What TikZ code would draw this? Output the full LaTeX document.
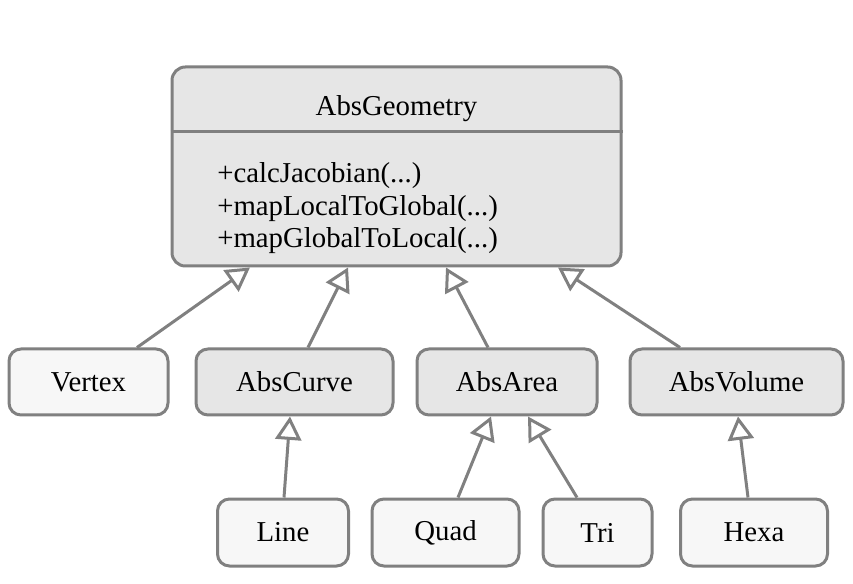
\documentclass[tikz,border=0pt]{standalone}
\usepackage{fontspec}
\setmainfont{Liberation Serif}
\usetikzlibrary{arrows.meta,calc}
\definecolor{strokegray}{HTML}{808080}
\definecolor{darkfill}{HTML}{E6E6E6}
\definecolor{lightfill}{HTML}{F7F7F7}
\begin{document}
\begin{tikzpicture}[x=0.75pt,y=-0.75pt,
  every node/.style={font=\fontsize{21.6}{26}\selectfont, inner sep=0pt},
  umlbox/.style={draw=strokegray, line width=2.25pt, rounded corners=9pt, minimum height=49.5pt},
  absbox/.style={umlbox, fill=darkfill},
  concbox/.style={umlbox, fill=lightfill},
  inherit/.style={draw=strokegray, line width=2.25pt, -{Triangle[open, fill=white, length=17.5pt, width=19.5pt]}}
]
\useasboundingbox (0,0) rectangle (853,584);

% main class
\node[draw=strokegray, line width=2.25pt, rounded corners=10pt, fill=darkfill,
      minimum width=336.75pt, minimum height=149.25pt] (geom) at (396.5,166.5) {};
\coordinate (divl) at (172,132);
\coordinate (divr) at (621,132);
\draw[strokegray, line width=2.25pt] (divl -| geom.west) -- (divr -| geom.east);
\node (title) at (396.5,109) {AbsGeometry};
\node[anchor=base west] (m1) at (217,183) {+calcJacobian(...)};
\node[anchor=base west] (m2) at (217,215.5) {+mapLocalToGlobal(...)};
\node[anchor=base west] (m3) at (217,248) {+mapGlobalToLocal(...)};

% second row
\node[concbox, minimum width=119.25pt] (vertex) at (88.5,382) {Vertex};
\node[absbox, minimum width=147.75pt] (abscurve) at (294.5,382) {AbsCurve};
\node[absbox, minimum width=135pt] (absarea) at (507,382) {AbsArea};
\node[absbox, minimum width=159.75pt] (absvolume) at (736.5,382) {AbsVolume};

% third row
\node[concbox, minimum width=98.25pt, minimum height=50.25pt] (line) at (283,532.5) {Line};
\node[concbox, minimum width=110.25pt, minimum height=50.25pt] (quad) at (445.5,532.5) {Quad};
\node[concbox, minimum width=81.75pt, minimum height=50.25pt] (tri) at (597.5,532.5) {Tri};
\node[concbox, minimum width=110.25pt, minimum height=50.25pt] (hexa) at (754,532.5) {Hexa};

% inheritance connectors
\draw[inherit] ($(vertex.north)+(48.5,0)$) -- ($(geom.south)+(-146.5,0)$);
\draw[inherit] ($(abscurve.north)+(13.5,0)$) -- ($(geom.south)+(-48.5,0)$);
\draw[inherit] ($(absarea.north)+(-19,0)$) -- ($(geom.south)+(49.5,0)$);
\draw[inherit] ($(absvolume.north)+(-56.5,0)$) -- ($(geom.south)+(161.5,0)$);
\draw[inherit] ($(line.north)+(1,0)$) -- ($(abscurve.south)+(-4.5,0)$);
\draw[inherit] ($(quad.north)+(12.5,0)$) -- ($(absarea.south)+(-16,0)$);
\draw[inherit] ($(tri.north)+(-20.5,0)$) -- ($(absarea.south)+(21,0)$);
\draw[inherit] ($(hexa.north)+(-6,0)$) -- ($(absvolume.south)+(1.5,0)$);
\end{tikzpicture}
\end{document}
